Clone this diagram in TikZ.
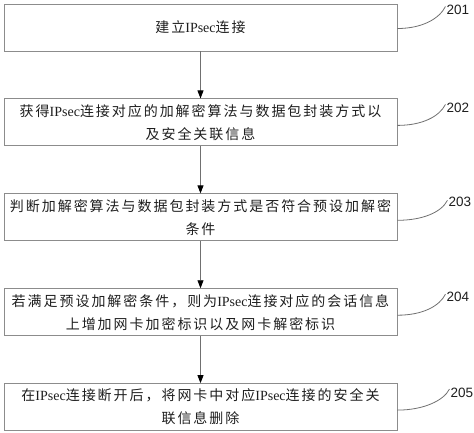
\documentclass[tikz,border=0pt]{standalone}
\usepackage{fontspec}
\setmainfont{Noto Sans CJK SC}[LetterSpace=14]
\newfontfamily\latfont{Liberation Serif}
\newfontfamily\numfont{Liberation Sans}
\newcommand{\ips}{{\latfont IPsec}}
\usetikzlibrary{positioning,arrows.meta}
\definecolor{boxgray}{HTML}{8C8C8C}
\definecolor{linegray}{HTML}{707070}
\definecolor{textblack}{HTML}{1E1E1E}

\begin{document}
\begin{tikzpicture}[
    x=1pt, y=-1pt,
    node distance=47pt,
    stepbox/.style={draw=boxgray, line width=0.9pt, rectangle, minimum height=47pt, minimum width=393pt, inner sep=0pt, align=center, font=\fontsize{14}{23}\selectfont, text=textblack},
    steplabel/.style={anchor=west, inner sep=1pt, font=\numfont\fontsize{13.5}{16}\selectfont, text=textblack},
    arrow/.style={draw=linegray, line width=0.8pt, -{Triangle[length=8pt,width=6pt,color=black]}},
    leader/.style={draw=linegray, line width=0.8pt}
]
  \useasboundingbox (0,0) rectangle (474,432);

  % Nodes
  \node (b1) [stepbox] at (200.5,27.5) {建立\ips 连接};

  \node (b2) [stepbox, below=of b1] {获得\ips 连接对应的加解密算法与数据包封装方式以\\及安全关联信息};

  \node (b3) [stepbox, below=of b2] {判断加解密算法与数据包封装方式是否符合预设加解密\\条件};

  \node (b4) [stepbox, below=of b3] {若满足预设加解密条件，则为\ips 连接对应的会话信息\\上增加网卡加密标识以及网卡解密标识};

  \node (b5) [stepbox, below=of b4] {在\ips 连接断开后，将网卡中对应\ips 连接的安全关\\联信息删除};

  % Labels
  \node (l1) [steplabel] at ([xshift=48pt,yshift=18pt]b1.east) {201};
  \node (l2) [steplabel] at ([xshift=48pt,yshift=15pt]b2.east) {202};
  \node (l3) [steplabel] at ([xshift=50pt,yshift=15pt]b3.east) {203};
  \node (l4) [steplabel] at ([xshift=48pt,yshift=15pt]b4.east) {204};
  \node (l5) [steplabel] at ([xshift=52pt,yshift=14pt]b5.east) {205};

  % Arrows
  \draw [arrow] (b1) -- (b2);
  \draw [arrow] (b2) -- (b3);
  \draw [arrow] (b3) -- (b4);
  \draw [arrow] (b4) -- (b5);

  % Leaders
  \draw [leader] ([yshift=-1pt]b1.east) .. controls +(25,0) and +(-6,12) .. ([yshift=3pt]l1.west);
  \draw [leader] ([yshift=-3pt]b2.east) .. controls +(25,0) and +(-6,12) .. ([yshift=3pt]l2.west);
  \draw [leader] ([yshift=-3pt]b3.east) .. controls +(25,0) and +(-6,12) .. ([yshift=2pt]l3.west);
  \draw [leader] ([yshift=-3pt]b4.east) .. controls +(25,0) and +(-6,12) .. ([yshift=3pt]l4.west);
  \draw [leader] ([yshift=-3pt]b5.east) .. controls +(25,0) and +(-6,12) .. ([yshift=4pt]l5.west);
\end{tikzpicture}
\end{document}
